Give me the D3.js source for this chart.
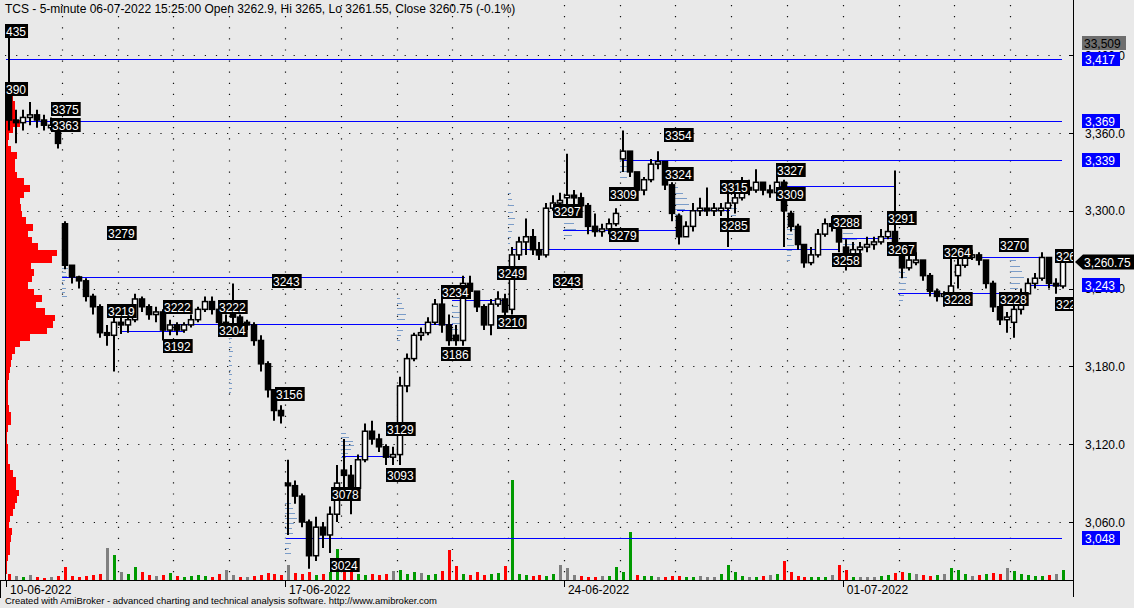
<!DOCTYPE html>
<html><head><meta charset="utf-8">
<script src="https://cdn.jsdelivr.net/npm/d3@7"></script>
<style>
html,body{margin:0;padding:0;background:#e9e9e9;}
svg{display:block;font-family:"Liberation Sans",Arial,sans-serif;}
</style></head><body>
<svg id="c" width="1134" height="608"></svg>
<script>
// ---------- DATA ----------
const symbol = "TCS";
const interval = "5-minute";
const lastStamp = "06-07-2022 15:25:00";
const lastOHLC = [3262.9, 3265, 3261.55, 3260.75];
const lastChange = "-0.1%";

// one bucket = 1/8 of a trading day, 19 trading days
const dayOpens = [3390,3290,3214,3212,3220,3090,3100,3112,3204,3224,3312,3340,3296,3306,3298,3272,3270,3250,3214];
const closes = [
 3370,3368,3372,3374,3370,3366,3366,3352,
 3258,3249,3246,3234,3226,3206,3204,3214,
 3212,3216,3232,3226,3220,3222,3208,3212,
 3208,3212,3216,3224,3230,3224,3214,3214,
 3218,3214,3212,3200,3182,3162,3146,3142,
 3088,3080,3060,3034,3056,3050,3066,3090,
 3096,3086,3108,3130,3124,3118,3110,3112,
 3165,3186,3204,3206,3214,3228,3212,3200,
 3200,3244,3238,3226,3212,3228,3232,3222,
 3266,3276,3280,3270,3266,3302,3306,3308,
 3312,3310,3304,3288,3284,3286,3290,3298,
 3346,3330,3316,3324,3336,3338,3320,3298,
 3280,3288,3300,3302,3300,3302,3302,3306,
 3310,3318,3316,3322,3316,3314,3322,3300,
 3288,3274,3260,3266,3282,3290,3288,3276,
 3266,3270,3272,3274,3276,3280,3284,3276,
 3256,3262,3262,3250,3238,3234,3236,3242,
 3258,3264,3266,3262,3244,3226,3216,3218,
 3224,3236,3244,3248,3264,3244,3242,3260.75];
const highs = [
 3435,3378,3378,3384,3378,3374,3372,3368,
 3292,3258,3250,3248,3236,3228,3212,3218,
 3222,3220,3236,3234,3228,3226,3224,3216,
 3214,3214,3220,3226,3234,3234,3228,3220,
 3244,3220,3216,3214,3204,3184,3162,3150,
 3108,3092,3082,3062,3064,3060,3072,3104,
 3124,3104,3112,3136,3138,3128,3120,3118,
 3172,3190,3206,3210,3218,3232,3236,3220,
 3212,3250,3250,3238,3228,3232,3238,3236,
 3272,3280,3294,3286,3276,3306,3312,3314,
 3344,3316,3314,3306,3298,3290,3294,3302,
 3362,3346,3330,3326,3340,3346,3338,3322,
 3298,3292,3306,3310,3318,3306,3306,3320,
 3314,3326,3324,3332,3322,3320,3330,3324,
 3300,3290,3274,3272,3286,3294,3296,3290,
 3278,3276,3276,3280,3280,3286,3290,3331,
 3276,3266,3268,3262,3252,3240,3238,3264,
 3266,3268,3270,3268,3262,3246,3228,3222,
 3230,3240,3248,3252,3268,3264,3248,3266];
const lows = [
 3362,3352,3362,3366,3364,3362,3362,3348,
 3255,3244,3240,3230,3220,3202,3196,3176,
 3205,3206,3214,3222,3216,3214,3200,3204,
 3204,3206,3210,3214,3222,3220,3210,3208,
 3210,3210,3208,3196,3176,3156,3138,3136,
 3050,3074,3056,3024,3030,3040,3036,3060,
 3078,3066,3080,3106,3120,3114,3104,3104,
 3104,3160,3184,3200,3204,3212,3206,3196,
 3196,3196,3232,3222,3208,3204,3226,3218,
 3220,3262,3266,3266,3262,3264,3300,3298,
 3296,3302,3300,3282,3280,3280,3282,3288,
 3330,3326,3312,3312,3322,3332,3316,3292,
 3274,3280,3284,3296,3296,3296,3296,3272,
 3298,3308,3312,3314,3312,3310,3312,3272,
 3284,3270,3256,3258,3264,3280,3284,3268,
 3254,3264,3266,3268,3270,3274,3278,3268,
 3248,3254,3258,3246,3234,3230,3226,3232,
 3240,3256,3262,3258,3240,3222,3212,3206,
 3202,3220,3236,3240,3246,3240,3236,3240];
// volume per bucket, thousand shares
const volumes = [
 30,20,15,25,15,10,15,20,
 65,20,15,20,25,30,155,120,
 40,30,65,40,25,20,25,35,
 20,15,20,25,20,15,30,50,
 25,15,15,20,25,35,30,25,
 75,35,30,40,25,30,40,150,
 100,40,30,25,30,25,30,45,
 50,30,40,35,25,30,45,145,
 70,30,25,40,25,30,35,70,
 485,30,25,20,25,20,30,75,
 60,25,20,15,15,20,20,65,
 40,235,25,20,20,15,15,20,
 20,15,15,20,15,15,30,75,
 40,20,15,15,20,25,30,90,
 40,20,15,15,15,15,25,75,
 50,15,15,15,15,20,25,35,
 40,35,30,25,20,25,30,60,
 50,30,20,25,30,35,30,60,
 45,30,25,20,20,25,30,50];
// buckets whose tall volume bar is an up (green) bar in the picture
const volGreen = [47, 72, 89, 102, 133, 140];

// volume-at-price profile (left), bins of 5 from 3390 downwards
const profileTop = 3390, profileStep = 5;
const profileVol = [8,10,10,10,14,8,4,3,6,12, 10,10,12,18,24,18,14,15,16,20,
 27,22,26,32,50,45,25,28,26,22, 28,36,30,38,48,46,40,24,14,10,
 7,6,5,4,3,3,3,3,4,6, 6,3,2,2,3,3,3,5,8,11,
 11,13,12,10,8,5,4,7,6,5, 5,3,2,2];

// per-day small profiles (steel-blue dashes)
const dashDays = [1,4,5,6,7,8,9,10,11,12,13,14,15,16,18];
const dashTop  = [3262,3202,3075,3129,3233,3231,3314,3295,3339,3318,3314,3298,3287,3262,3262];
const dashBot  = [3234,3160,3036,3110,3200,3200,3275,3281,3326,3293,3285,3262,3270,3231,3236];
const dashLens = [[3,4,6,4,5,3,2,4,3,5],[3,2,3,4,3,2,3,2,3,2,3,3,2],[6,8,10,12,9,7,8,10,6,4,6],
 [5,8,12,13,10,7,5],[3,5,7,9,8,10,6,4,3],[4,6,8,7,10,6,5,4],[3,4,6,5,7,6,4,3,2],[5,10,12,8],
 [6,9,10,7],[3,8,12,14,10,6,4],[3,4,6,5,4,3],[4,6,7,8,6,5,7,5,4,3],[6,10,14,12,8],[3,5,6,8,7,6,5,4],
 [6,10,12,14,10,8,6]];

// support / resistance lines: price, from day, to day
const levelPrice = [3417,3369,3339,3319,3285,3270.5,3300.6,3279,3264.4,3243,3236.6,3249,3212.7,3207,3231.2,3111,3048];
const levelFrom  = [0,0.25,11.06,13.87,9.98,9.09,12.03,14.98,17.4,18.3,15.99,1.0,2.99,2.08,7.99,6.02,5.02];
const levelTo    = [18.92,18.92,18.92,15.93,12.03,14.95,12.97,15.99,18.58,18.94,17.81,8.23,8.01,3.21,9.0,6.94,18.92];
const levelTags  = [3417,3369,3339,3243,3048];

// pivot labels: text, day position, price
const pivText  = ["435","390","3375","3363","3279","3243","3219","3222","3222","3204","3192","3156","3129","3093","3078","3024",
 "3234","3186","3249","3210","3297","3243","3309","3279","3354","3324","3315","3285","3327","3309","3288","3258","3291","3267",
 "3264","3228","3270","3228","3262","3228"];
const pivT = [-0.018,-0.018,0.806,0.806,1.81,4.77,1.81,2.81,3.80,3.80,2.81,4.82,6.81,6.81,5.82,5.81,
 7.80,7.80,8.80,8.80,9.80,9.80,10.81,10.81,11.79,11.79,12.80,12.80,13.80,13.80,14.80,14.80,15.79,15.79,
 16.79,16.79,17.80,17.80,18.80,18.80];
const pivPrice = [3438.7,3393.9,3378.5,3365.8,3282.9,3246.2,3222.7,3225.8,3225.8,3207.7,3195.4,3159.1,3132.1,3096.3,3081.6,3027.2,
 3237.4,3189.2,3252.4,3213.9,3300.2,3245.9,3312.6,3281.7,3358.5,3328.0,3318.7,3288.7,3331.1,3312.6,3291.4,3262.1,3294.8,3270.9,
 3268.2,3232.0,3273.6,3231.6,3264.8,3228.5];

const priceTicks = [3420,3360,3300,3240,3180,3120,3060];
const dateLabels = ["10-06-2022","17-06-2022","24-06-2022","01-07-2022"];
const dateDays = [0,5,10,15];
const volTag = 33509;
const footer = "Created with AmiBroker - advanced charting and technical analysis software. http://www.amibroker.com";

// ---------- DRAW ----------
const BG = "#e9e9e9", BLUE = "#0000ff";
const svg = d3.select("#c");
svg.append("rect").attr("width",1134).attr("height",608).attr("fill",BG);

const x = d3.scaleLinear().domain([0,19]).range([6,1066]);
const y = d3.scaleLinear().domain([3060,3360]).range([522,133]);
const vy = d3.scaleLinear().domain([0,500]).range([580,477]);
const pw = d3.scaleLinear().domain([0,50]).range([0,52]);
const dw = d3.scaleLinear().domain([0,10]).range([0,10]);
const per = 8;
const px = v => Math.round(v) + 0.5;

svg.append("defs").append("clipPath").attr("id","clip")
  .append("rect").attr("x",5).attr("y",0).attr("width",1068).attr("height",580);
const plot = svg.append("g").attr("clip-path","url(#clip)");

// grid
plot.selectAll(".hg").data(priceTicks).join("line")
  .attr("x1",5).attr("x2",1073).attr("y1",d=>px(y(d))).attr("y2",d=>px(y(d)))
  .attr("stroke","#111").attr("stroke-width",1.2).attr("stroke-dasharray","1.2,9.9");
plot.selectAll(".vg").data(d3.range(1,19)).join("line")
  .attr("x1",d=>px(x(d))).attr("x2",d=>px(x(d))).attr("y1",5).attr("y2",580)
  .attr("stroke","#111").attr("stroke-width",1.2).attr("stroke-dasharray","1.2,9.9");

// volume-at-price profile
plot.selectAll(".pv").data(profileVol).join("rect")
  .attr("x",5).attr("y",(d,i)=>y(profileTop - i*profileStep))
  .attr("height",(d,i)=>y(profileTop-(i+1)*profileStep)-y(profileTop-i*profileStep)+0.3)
  .attr("width",d=>pw(d)).attr("fill","#ff0000").attr("shape-rendering","crispEdges");
svg.append("line").attr("x1",5.5).attr("x2",5.5).attr("y1",y(profileTop)).attr("y2",580)
  .attr("stroke","#000");

// buckets
const bars = closes.map((c,i)=>{
  const o = (i % per === 0) ? dayOpens[i/per] : closes[i-1];
  return {i, o, c, h: highs[i], l: lows[i], v: volumes[i]};
});

// volume bars
plot.selectAll(".vb").data(bars).join("rect")
  .attr("x",d=>Math.round(x((d.i+0.5)/per))-1).attr("width",3)
  .attr("y",d=>vy(d.v)).attr("height",d=>580-vy(d.v))
  .attr("shape-rendering","crispEdges")
  .attr("fill",d=>volGreen.includes(d.i) ? "#009a00" :
        (Math.abs(d.c-d.o)<=2 ? "#808080" : (d.c>d.o ? "#009a00" : "#ff0000")));

// small per-day profiles
dashDays.forEach((day,k)=>{
  const lens = dashLens[k];
  const ys = d3.scaleLinear().domain([0,lens.length-1]).range([y(dashTop[k]), y(dashBot[k])]);
  plot.selectAll(null).data(lens).join("line")
    .attr("x1",x(day)).attr("x2",d=>x(day)+dw(d))
    .attr("y1",(d,j)=>px(ys(j))).attr("y2",(d,j)=>px(ys(j)))
    .attr("stroke","#7a9cc8").attr("stroke-width",1).attr("shape-rendering","crispEdges");
});

// level lines
plot.selectAll(".lv").data(levelPrice).join("line")
  .attr("x1",(d,i)=>x(levelFrom[i])).attr("x2",(d,i)=>x(levelTo[i]))
  .attr("y1",d=>px(y(d))).attr("y2",d=>px(y(d)))
  .attr("stroke",BLUE).attr("stroke-width",1).attr("shape-rendering","crispEdges");

// candles
const cg = plot.append("g");
cg.selectAll(".wk").data(bars).join("line")
  .attr("x1",d=>Math.round(x((d.i+0.5)/per))).attr("x2",d=>Math.round(x((d.i+0.5)/per)))
  .attr("y1",d=>y(d.h)).attr("y2",d=>y(d.l)).attr("stroke","#000").attr("stroke-width",2);
cg.selectAll(".bd").data(bars).join("rect")
  .attr("x",d=>Math.round(x((d.i+0.5)/per))-2.5).attr("width",5)
  .attr("y",d=>y(Math.max(d.o,d.c))).attr("height",d=>Math.max(2.5,Math.abs(y(d.o)-y(d.c))))
  .attr("fill",d=>d.c>=d.o ? "#fff" : "#000").attr("stroke","#000").attr("stroke-width",1.5);

// pivot labels
const lg = plot.append("g");
pivText.forEach((t,i)=>{
  const g = lg.append("g").attr("transform",`translate(${Math.round(x(pivT[i]))},${Math.round(y(pivPrice[i]))})`);
  const r = g.append("rect").attr("y",-7).attr("height",14).attr("fill","#000");
  const tx = g.append("text").attr("x",1).attr("y",4.5).attr("fill","#fff").attr("font-size",12).text(t);
  r.attr("width",tx.node().getComputedTextLength()+3);
});

// right axis
svg.append("line").attr("x1",1073.5).attr("x2",1073.5).attr("y1",0).attr("y2",597).attr("stroke","#000");
svg.selectAll(".tk").data(priceTicks).join("line")
  .attr("x1",1069).attr("x2",1073).attr("y1",d=>px(y(d))).attr("y2",d=>px(y(d))).attr("stroke","#000");
svg.selectAll(".tl").data(priceTicks).join("text")
  .attr("x",1085).attr("y",d=>y(d)+4.5).attr("font-size",12).attr("fill","#000")
  .text(d=>d3.format(",.1f")(d));

// volume tag
const vt = svg.append("g").attr("transform","translate(1082,43)");
vt.append("rect").attr("y",-7).attr("width",44).attr("height",14).attr("fill","#6e6e6e");
vt.append("text").attr("x",2).attr("y",4.5).attr("font-size",12).attr("fill","#000").text(d3.format(",")(volTag));

// level tags
levelTags.forEach(v=>{
  const g = svg.append("g").attr("transform",`translate(1082,${Math.round(y(v))})`);
  g.append("rect").attr("y",-7).attr("width",38).attr("height",14).attr("fill",BLUE);
  g.append("text").attr("x",3).attr("y",4.5).attr("font-size",12).attr("fill","#fff").text(d3.format(",")(v));
});

// last price tag
const lp = closes[closes.length-1], ly = Math.round(y(lp));
svg.append("path").attr("d",`M1075,${ly} L1083,${ly-7.5} L1134,${ly-7.5} L1134,${ly+7.5} L1083,${ly+7.5} Z`).attr("fill","#000");
svg.append("text").attr("x",1084).attr("y",ly+4.5).attr("font-size",12).attr("fill","#fff").text(d3.format(",.2f")(lp));

// bottom axis
svg.append("line").attr("x1",0).attr("x2",1073).attr("y1",580.5).attr("y2",580.5).attr("stroke","#000");
svg.append("line").attr("x1",0.5).attr("x2",0.5).attr("y1",580).attr("y2",598).attr("stroke","#000");
svg.selectAll(".dt").data(dateDays).join("line")
  .attr("x1",d=>px(x(d))).attr("x2",d=>px(x(d))).attr("y1",580).attr("y2",587).attr("stroke","#000");
svg.selectAll(".dl").data(dateLabels).join("text")
  .attr("x",(d,i)=>x(dateDays[i])+4).attr("y",594).attr("font-size",12).attr("fill","#000").text(d=>d);

// title & footer
svg.append("text").attr("x",5).attr("y",13).attr("font-size",12).attr("fill","#000")
  .text(`${symbol} - ${interval} ${lastStamp} Open ${lastOHLC[0]}, Hi ${lastOHLC[1]}, Lo ${lastOHLC[2]}, Close ${lastOHLC[3]} (${lastChange})`);
svg.append("text").attr("x",5).attr("y",604).attr("font-size",9.6).attr("fill","#000")
  .attr("textLength",432).attr("lengthAdjust","spacingAndGlyphs").text(footer);
</script>
</body></html>
